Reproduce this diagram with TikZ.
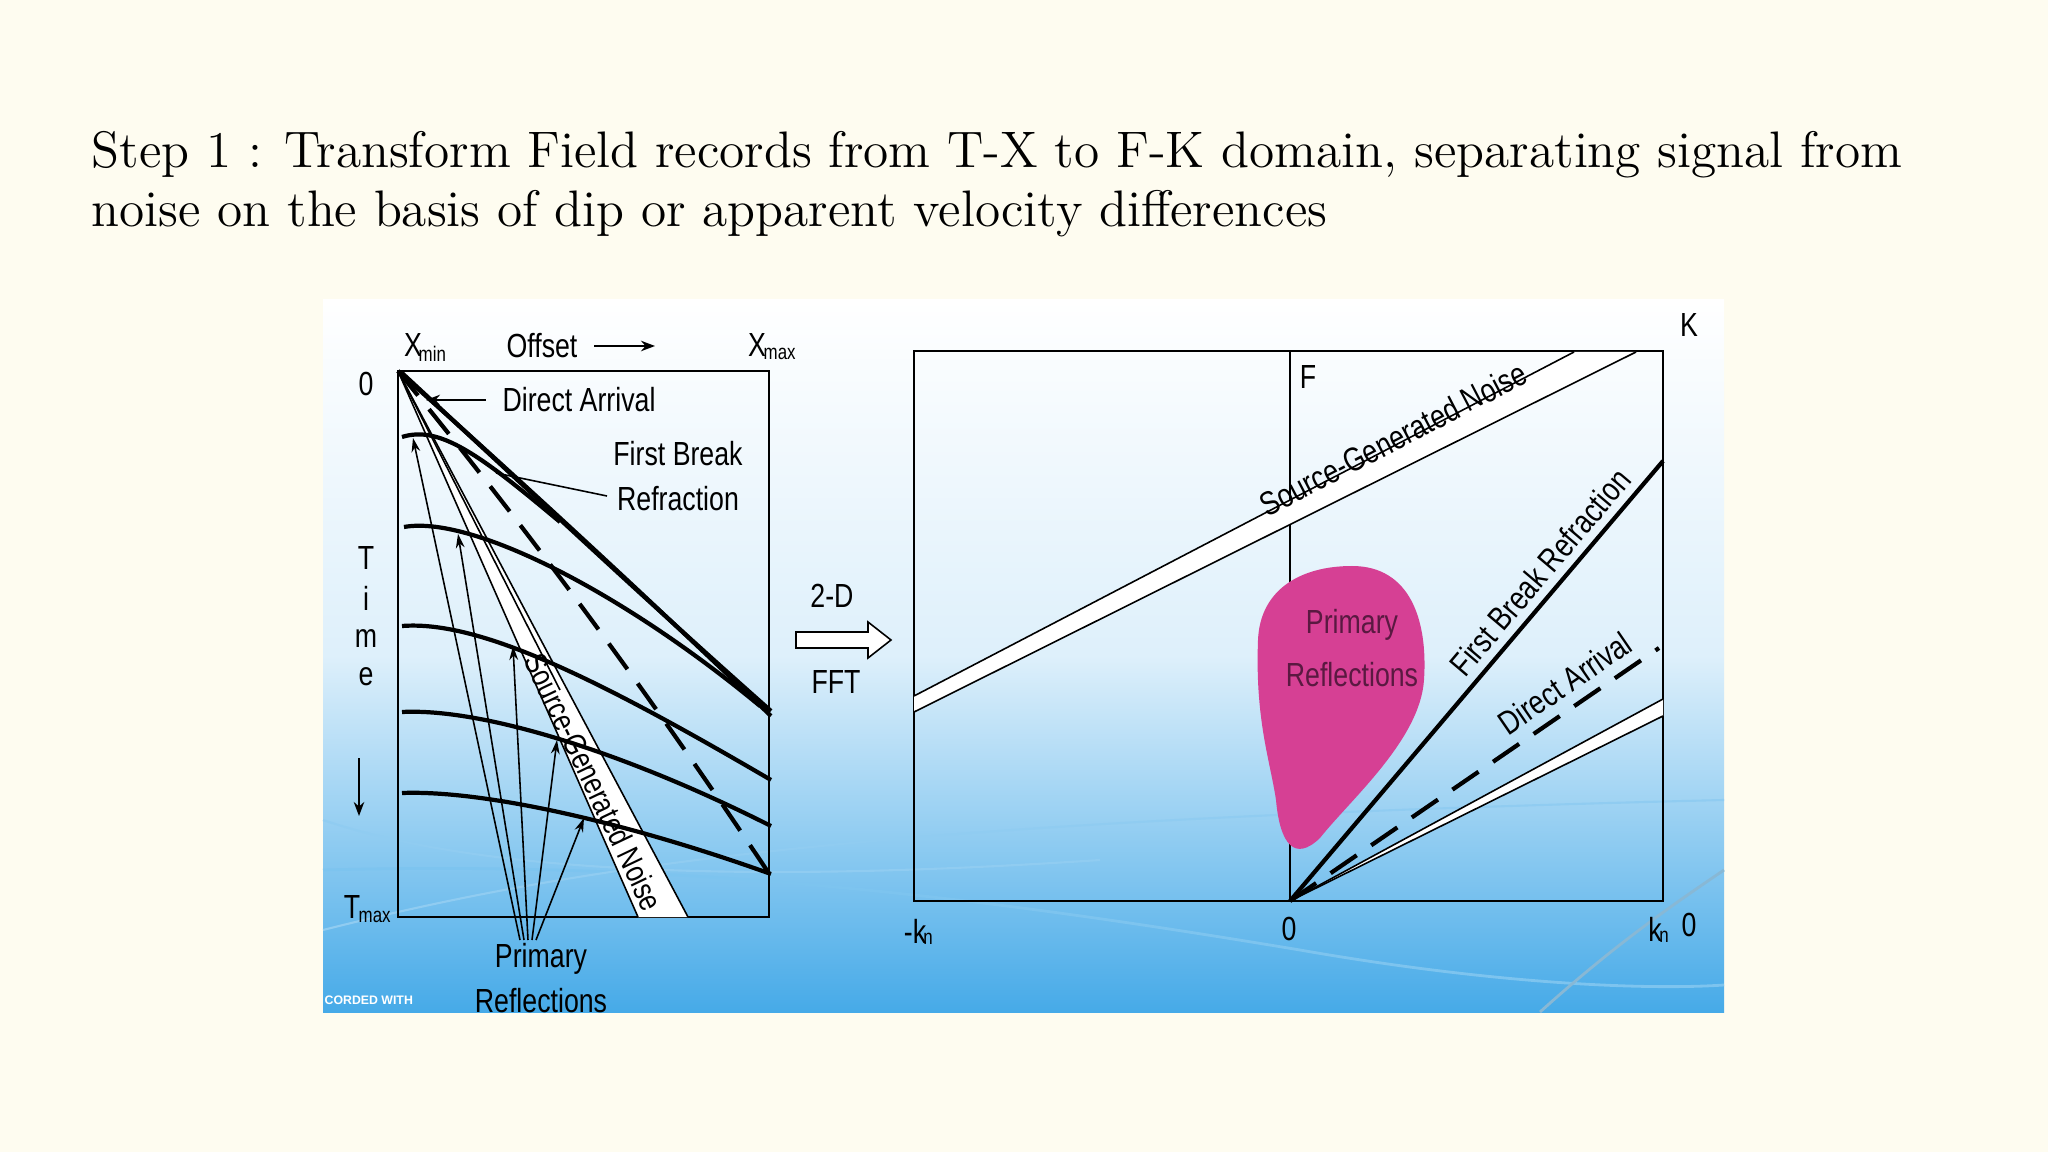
\documentclass[tikz,border=0pt]{standalone}
\usepackage{fontspec}
\setsansfont{Liberation Sans}
\usetikzlibrary{arrows.meta}
\newcommand{\nar}[1]{\scalebox{0.8}[1]{#1}}
\definecolor{cream}{RGB}{254,252,240}
\definecolor{skyb}{RGB}{70,170,232}
\definecolor{pinkb}{RGB}{214,64,148}
\definecolor{plum}{RGB}{90,25,65}
\begin{document}
\begin{tikzpicture}[x=0.01cm,y=-0.01cm,
  lbl/.style={font=\sffamily\fontsize{9.5}{11}\selectfont,inner sep=0pt},
  thin/.style={line width=0.45pt},
  thk/.style={line width=1.2pt},
  arr/.style={thin,-{Stealth[length=4pt,width=2.5pt]}}]
\useasboundingbox (0,0) rectangle (2048,1152);
\fill[cream] (0,0) rectangle (2048,1152);
% title
\node[anchor=base west,inner sep=0pt,align=left,font=\fontsize{14.6}{17}\selectfont] (title) at (91,227)
 {Step 1 : Transform Field records from T-X to F-K domain, separating signal from\\noise on the basis of dip or apparent velocity differences};
% image background
\shade[top color=white,bottom color=skyb,middle color={skyb!18!white}] (323,300) rectangle (1724,1012);
\draw[skyb!70!white,line width=0.8pt] (323,870) .. controls (700,860) and (1000,900) .. (1300,950) .. controls (1500,985) and (1650,990) .. (1724,985);
\draw[skyb!60!white,line width=0.6pt] (323,930) .. controls (600,860) and (900,820) .. (1724,800);
\draw[skyb!60!white,line width=0.6pt] (323,820) .. controls (500,880) and (800,880) .. (1100,860);
\draw[skyb!80!black!60!white,line width=0.8pt] (1540,1012) .. controls (1620,940) and (1680,900) .. (1724,870);
% ---------- left panel ----------
\coordinate (c0) at (398,371);
\draw[thin] (398,371) rectangle (769,917);
\fill[white] (c0) -- (638,917) -- (688,917) -- cycle;
\draw[thin] (c0) -- (638,917);
\draw[thin] (c0) -- (688,917);
\draw[thin] (c0) -- (560,690);
\node[lbl,rotate=-64.5,font=\sffamily\fontsize{9}{10}\selectfont] (sgn1) at (594,782) {\nar{Source-Generated Noise}};
% first break
\draw[thk] (c0) .. controls (520,480) and (650,600) .. (771,716);
\draw[thk] (402,373) .. controls (522,484) and (650,604) .. (771,711);
\draw[thk,dashed,dash pattern=on 9pt off 5pt] (c0) .. controls (520,520) and (640,680) .. (768,872);
% reflections
\draw[thk] (402,437) .. controls (440,425) and (480,455) .. (560,522);
\draw[thk] (404,527) .. controls (470,515) and (620,590) .. (760,706);
\draw[thk] (402,626) .. controls (480,620) and (600,680) .. (771,780);
\draw[thk] (402,712) .. controls (480,708) and (620,750) .. (771,826);
\draw[thk] (402,793) .. controls (480,790) and (620,820) .. (771,874);
% labels
\node[lbl] (xmin) at (413,345) {\nar{X}};
\node[lbl,font=\sffamily\fontsize{6}{7}\selectfont,anchor=west] at (418,354) {\nar{min}};
\node[lbl] (offs) at (542,346) {\nar{Offset}};
\coordinate (oa) at (594,346); \coordinate (ob) at (655,346);
\draw[thin,-{Stealth[length=4pt,width=3pt]}] (oa) -- (ob);
\node[lbl] (xmax) at (757,345) {\nar{X}};
\node[lbl,font=\sffamily\fontsize{6}{7}\selectfont,anchor=west] at (763,354) {\nar{max}};
\node[lbl] (zero) at (366,384) {\nar{0}};
\node[lbl] (da) at (579,400) {\nar{Direct Arrival}};
\coordinate (dap) at (426,400);
\draw[thin,-{Stealth[length=4pt,width=3pt]}] (da.west) ++(-16,0) -- (dap);
\node[lbl,align=center] (fbr) at (678,476) {\nar{First Break}\\[2pt]\nar{Refraction}};
\coordinate (fbp) at (496,473);
\draw[thin] (607,496) -- (fbp);
\node[lbl] (tT) at (366,558) {\nar{T}};
\node[lbl] (ti) at (366,598) {\nar{i}};
\node[lbl] (tm) at (366,639) {\nar{m}};
\node[lbl] (te) at (366,677) {\nar{e}};
\coordinate (ta) at (359,758); \coordinate (tb) at (359,816);
\draw[thin,-{Stealth[length=4pt,width=3pt]}] (ta) -- (tb);
\node[lbl] (tmax) at (352,907) {\nar{T}};
\node[lbl,font=\sffamily\fontsize{6}{7}\selectfont,anchor=west] at (358,917) {\nar{max}};
\node[lbl,align=center] (prl) at (541,978) {\nar{Primary}\\[2pt]\nar{Reflections}};
\coordinate (p1) at (413,438);
\coordinate (p2) at (458,534);
\coordinate (p3) at (513,646);
\coordinate (p4) at (557,740);
\coordinate (p5) at (584,818);
\draw[arr] (520,940) -- (p1);
\draw[arr] (524,940) -- (p2);
\draw[arr] (528,940) -- (p3);
\draw[arr] (532,940) -- (p4);
\draw[arr] (536,940) -- (p5);
\node[font=\sffamily\bfseries\fontsize{3.5}{4}\selectfont,text=white,inner sep=0pt,anchor=west] (rec) at (324,1000) {CORDED WITH};
% ---------- FFT arrow ----------
\node[lbl] (twod) at (832,596) {\nar{2-D}};
\draw[thin,fill=white] (796,632) -- (868,632) -- (868,622) -- (891,640) -- (868,658) -- (868,648) -- (796,648) -- cycle;
\node[lbl] (fft) at (836,682) {\nar{FFT}};
% ---------- right panel ----------
\draw[thin] (914,351) rectangle (1663,901);
\draw[thick] (914,901) -- (1663,901);
\coordinate (o) at (1290,901);
\draw[thin] (1290,351) -- (o);
\fill[white] (914,696) -- (1574,352) -- (1636,352) -- (914,712) -- cycle;
\draw[thin] (914,696) -- (1574,352);
\draw[thin] (914,712) -- (1636,352);
\node[lbl,rotate=27.5] (sgn2) at (1393,439) {\nar{Source-Generated Noise}};
% pink blob
\fill[pinkb] (1352,566) .. controls (1410,566) and (1428,620) .. (1424,680)
  .. controls (1420,740) and (1350,800) .. (1320,838)
  .. controls (1295,862) and (1280,845) .. (1276,800)
  .. controls (1270,760) and (1255,720) .. (1258,640)
  .. controls (1260,590) and (1300,566) .. (1352,566) -- cycle;
\node[lbl,text=plum,align=center] (prr) at (1352,648) {\nar{Primary}\\[4pt]\nar{Reflections}};
% lower white band
\fill[white] (o) -- (1663,699) -- (1663,716) -- cycle;
\draw[thin] (o) -- (1663,699);
\draw[thin] (o) -- (1663,716);
\draw[thk] (o) -- (1663,461);
\node[lbl,rotate=49.7] (fbr2) at (1540,572) {\nar{First Break Refraction}};
\draw[thk,dashed,dash pattern=on 9pt off 5pt] (o) -- (1659,648);
\node[lbl,rotate=34.4] (da2) at (1565,683) {\nar{Direct Arrival}};
\node[lbl] (F) at (1308,377) {\nar{F}};
\node[lbl] (K) at (1689,325) {\nar{K}};
\node[lbl] (mkn) at (915,931) {\nar{-k}};
\node[lbl,font=\sffamily\fontsize{6}{7}\selectfont] at (928,939) {\nar{n}};
\node[lbl] (z2) at (1289,929) {\nar{0}};
\node[lbl] (kn) at (1655,929) {\nar{k}};
\node[lbl,font=\sffamily\fontsize{6}{7}\selectfont] at (1664,937) {\nar{n}};
\node[lbl] (z3) at (1689,925) {\nar{0}};
\end{tikzpicture}
\end{document}
